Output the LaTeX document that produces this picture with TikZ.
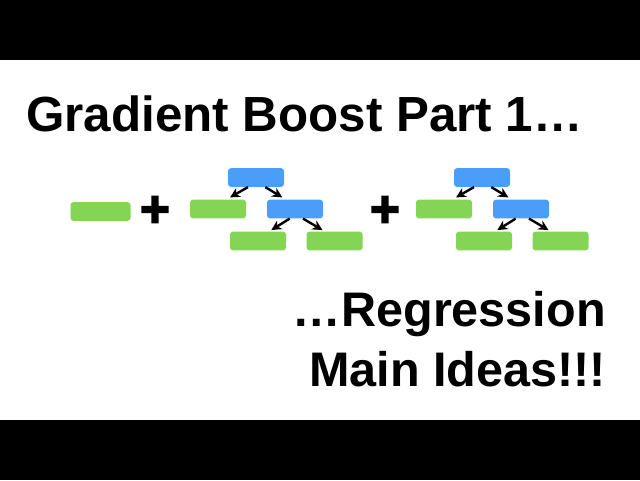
\documentclass[tikz,border=0pt]{standalone}
\usepackage{fontspec}
\setmainfont{Liberation Sans}
\newfontfamily\plusfont[FakeBold=11]{DejaVu Sans}
\usetikzlibrary{arrows.meta}
\definecolor{leafg}{HTML}{84D455}
\definecolor{rootb}{HTML}{4A9EF8}
\tikzset{
 x=0.75pt,y=-0.75pt,
 leaf/.style={fill=leafg,draw=none,rounded corners=2.2pt,minimum width=42pt,minimum height=14pt,inner sep=0pt},
 branch/.style={fill=rootb,draw=none,rounded corners=2.2pt,minimum width=42pt,minimum height=14pt,inner sep=0pt},
 conn/.style={draw=black,line width=1.8pt,-{Stealth[length=7.5pt,width=7.5pt]}},
 txt/.style={inner sep=0pt,font=\bfseries\fontsize{37pt}{37pt}\selectfont,text=black},
 txtb/.style={inner sep=0pt,font=\bfseries\fontsize{36.4pt}{36.4pt}\selectfont,text=black},
 plusn/.style={inner sep=0pt,font=\plusfont\fontsize{28pt}{28pt}\selectfont,text=black}
}
\begin{document}
\begin{tikzpicture}
\useasboundingbox (0,0) rectangle (640,480);
\fill[white] (0,0) rectangle (640,480);
\fill[black] (0,0) rectangle (640,60);
\fill[black] (0,420) rectangle (640,480);
\node[txt,anchor=base west] (title) at (26,131) {Gradient Boost Part 1…};
\node[txtb,anchor=base east] (r1) at (606,326) {…Regression};
\node[txtb,anchor=base east] (r2) at (606,386) {Main Ideas!!!};
\node[leaf,minimum width=45pt] (l0) at (100.5,211.5) {};
\node[plusn] (p1) at (155,209.5) {+};
\node[branch] (a1) at (256,177.5) {};
\node[leaf] (a2) at (218,209) {};
\node[branch] (a3) at (295,209) {};
\node[leaf] (a4) at (258,241) {};
\node[leaf] (a5) at (334.5,241) {};
\node[plusn] (p2) at (385,209.5) {+};
\node[branch] (b1) at (482,177.5) {};
\node[leaf] (b2) at (444,209) {};
\node[branch] (b3) at (521,209) {};
\node[leaf] (b4) at (484,241) {};
\node[leaf] (b5) at (560.5,241) {};
\foreach \s/\t in {a1/a2,b1/b2}{
 \draw[conn] ([xshift=-6pt]\s.south) -- ([xshift=9pt,yshift=1.5pt]\t.north);
}
\foreach \s/\t in {a1/a3,b1/b3}{
 \draw[conn] ([xshift=7pt]\s.south) -- ([xshift=-9.5pt,yshift=1.5pt]\t.north);
}
\foreach \s/\t in {a3/a4,b3/b4}{
 \draw[conn] ([xshift=-4pt]\s.south) -- ([xshift=10pt,yshift=1pt]\t.north);
}
\foreach \s/\t in {a3/a5,b3/b5}{
 \draw[conn] ([xshift=6pt]\s.south) -- ([xshift=-9pt,yshift=1pt]\t.north);
}
\end{tikzpicture}
\end{document}
